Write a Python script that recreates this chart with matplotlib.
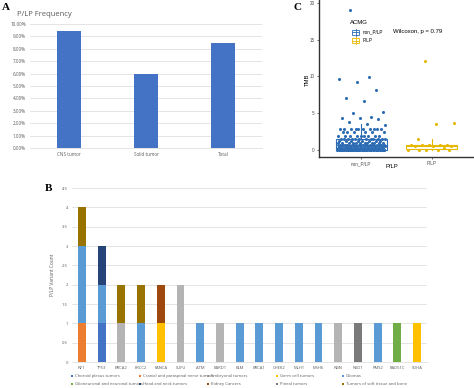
import numpy as np
import matplotlib
matplotlib.use("Agg")
import matplotlib.pyplot as plt
from matplotlib.patches import Rectangle
from matplotlib.lines import Line2D

# ---- panel A data ----
freq_groups = ["CNS tumor", "Solid tumor", "Total"]
freq_values = [0.094, 0.0595, 0.085]

# ---- panel B data ----
genes = ["NF1", "TP53", "BRCA2", "ERCC2", "FANCA", "SUFU", "ATM", "BARD1", "BLM",
         "BRCA1", "CHEK2", "MLH1", "MSH6", "NBN", "NSD1", "PMS2", "RAD51C", "SDHA"]
tumor_types = ["Choroid plexus tumors", "Cranial and paraspinal nerve tumors",
               "Embryonal tumors", "Germ cell tumors", "Gliomas",
               "Glioneuronal and neuronal tumors", "Head and neck tumors",
               "Kidney Cancers", "Pineal tumors", "Tumors of soft tissue and bone"]
choroid = [0, 1, 0, 0, 0, 0, 0, 0, 0, 0, 0, 0, 0, 0, 0, 0, 0, 0]
cranial = [1, 0, 0, 0, 0, 0, 0, 0, 0, 0, 0, 0, 0, 0, 0, 0, 0, 0]
embryonal = [0, 0, 1, 0, 0, 2, 0, 1, 0, 0, 0, 0, 0, 1, 0, 0, 0, 0]
germ_cell = [0, 0, 0, 0, 1, 0, 0, 0, 0, 0, 0, 0, 0, 0, 0, 0, 0, 1]
gliomas = [2, 1, 0, 1, 0, 0, 1, 0, 1, 1, 1, 1, 1, 0, 0, 1, 0, 0]
glioneuronal = [0, 0, 0, 0, 0, 0, 0, 0, 0, 0, 0, 0, 0, 0, 0, 0, 1, 0]
head_neck = [0, 1, 0, 0, 0, 0, 0, 0, 0, 0, 0, 0, 0, 0, 0, 0, 0, 0]
kidney = [0, 0, 0, 0, 1, 0, 0, 0, 0, 0, 0, 0, 0, 0, 0, 0, 0, 0]
pineal = [0, 0, 0, 0, 0, 0, 0, 0, 0, 0, 0, 0, 0, 0, 1, 0, 0, 0]
soft_tissue = [1, 0, 1, 1, 0, 0, 0, 0, 0, 0, 0, 0, 0, 0, 0, 0, 0, 0]
counts = [choroid, cranial, embryonal, germ_cell, gliomas, glioneuronal,
          head_neck, kidney, pineal, soft_tissue]
tumor_colors = ["#4472C4", "#ED7D31", "#B4B4B4", "#FFC000", "#5B9BD5",
                "#70AD47", "#264478", "#9E480E", "#7A7A7A", "#997300"]

# ---- panel C data (TMB values, repeated levels) ----
acmg_groups = ["non_P/LP", "P/LP"]
nonplp_levels = [0.0, 0.24, 0.48, 0.72, 0.96, 1.2, 1.45, 1.9, 2.4, 2.9,
                 3.4, 3.6, 3.8, 4.2, 4.3, 4.4, 4.5, 5.1, 5.2, 6.6, 7.1, 8.1, 9.2, 9.6, 9.9, 19.1]
nonplp_counts = [45, 22, 18, 16, 12, 8, 12, 9, 6, 10,
                 1, 1, 1, 1, 1, 1, 1, 1, 1, 1, 1, 1, 1, 1, 1, 1]
plp_tmb = [12.1, 3.7, 3.5, 1.45, 0.72, 0.72, 0.72, 0.72, 0.72, 0.48, 0.48, 0.48,
           0.24, 0.05, 0.05, 0.05, 0.05, 0.05]
acmg_colors = ["#2E6DB4", "#E7B800"]

W, H = 474, 388
fig = plt.figure(figsize=(W / 100, H / 100), dpi=100)
fig.patch.set_facecolor("white")


def px_axes(l, t, r, b):
    return fig.add_axes([l / W, 1 - b / H, (r - l) / W, (b - t) / H])


def fx(x):
    return x / W


def fy(y):
    return 1 - y / H


excel_font = "Open Sans"
gray_txt = "#595959"
grid_c = "#D9D9D9"

# ================= Panel A =================
axA = px_axes(30, 24, 262, 148)
xa = np.arange(len(freq_groups))
axA.bar(xa, freq_values, width=0.31, color="#4472C4", zorder=3)
axA.set_xlim(-0.5, 2.5)
axA.set_ylim(0, 0.10)
axA.set_yticks(np.arange(0, 0.1001, 0.01))
axA.set_yticklabels([f"{v * 100:.2f}%" for v in np.arange(0, 0.1001, 0.01)])
axA.set_xticks(xa)
axA.set_xticklabels(freq_groups)
axA.yaxis.grid(True, color=grid_c, lw=0.5, zorder=0)
for s in ["top", "right", "left"]:
    axA.spines[s].set_visible(False)
axA.spines["bottom"].set_color(grid_c)
axA.spines["bottom"].set_linewidth(0.5)
axA.tick_params(length=0, labelsize=3.3, labelcolor=gray_txt, pad=3)
for t in axA.get_xticklabels() + axA.get_yticklabels():
    t.set_family(excel_font)
fig.text(fx(17), fy(15), "P/LP Frequency", fontsize=5.5, color=gray_txt,
         family=excel_font, va="center", ha="left")
fig.text(fx(2), fy(7), "A", fontsize=8, weight="bold", family="Liberation Serif",
         va="center", ha="left")

# ================= Panel B =================
axB = px_axes(72, 188, 427, 362)
xb = np.arange(len(genes))
bottom = np.zeros(len(genes))
for name, vals, col in zip(tumor_types, counts, tumor_colors):
    vals = np.array(vals, dtype=float)
    axB.bar(xb, vals, bottom=bottom, width=0.4, color=col, zorder=3, label=name)
    bottom += vals
axB.set_xlim(-0.5, len(genes) - 0.5)
axB.set_ylim(0, 4.5)
yt = np.arange(0, 4.51, 0.5)
axB.set_yticks(yt)
axB.set_yticklabels([f"{v:g}" for v in yt])
axB.set_xticks(xb)
axB.set_xticklabels(genes)
axB.yaxis.grid(True, color=grid_c, lw=0.5, zorder=0)
for s in ["top", "right", "left"]:
    axB.spines[s].set_visible(False)
axB.spines["bottom"].set_color(grid_c)
axB.spines["bottom"].set_linewidth(0.5)
axB.tick_params(length=0, labelsize=3.0, labelcolor=gray_txt, pad=3)
for t in axB.get_xticklabels() + axB.get_yticklabels():
    t.set_family(excel_font)
axB.set_ylabel("P/LP Variant Count", fontsize=3.5, color=gray_txt,
               family=excel_font, labelpad=5)
fig.text(fx(45), fy(188), "B", fontsize=8, weight="bold", family="Liberation Serif",
         va="center", ha="left")

# legend laid out like Excel: 5 columns x 2 rows
leg_cols = [72, 140, 208, 277, 343]
leg_rows = [376, 384]
for i, (name, col) in enumerate(zip(tumor_types, tumor_colors)):
    cx = leg_cols[i % 5]
    cy = leg_rows[i // 5]
    fig.add_artist(Rectangle((fx(cx - 1.2), fy(cy + 1.2)), 2.4 / W, 2.4 / H,
                             transform=fig.transFigure, color=col, lw=0))
    fig.text(fx(cx + 3), fy(cy), name, fontsize=3.0, color=gray_txt,
             family=excel_font, va="center", ha="left")

# ================= Panel C =================
axC = px_axes(319, -4, 474, 157)
nonplp_tmb = np.repeat(nonplp_levels, nonplp_counts)
data_c = [nonplp_tmb, np.array(plp_tmb)]
box_w = 0.72
for k, (vals, col) in enumerate(zip(data_c, acmg_colors)):
    pos = k + 1
    axC.boxplot(vals, positions=[pos], widths=box_w, showfliers=False,
                patch_artist=True,
                boxprops=dict(facecolor="white", edgecolor=col, lw=0.8),
                medianprops=dict(color=col, lw=0.8),
                whiskerprops=dict(color=col, lw=0.8),
                capprops=dict(lw=0), zorder=2)
    n = len(vals)
    jit = ((np.arange(n) * 0.6180339887 + 0.35) % 1 - 0.5) * 2 * 0.34
    axC.scatter(pos + jit, vals, s=5, color=col, lw=0, zorder=3)
axC.set_xlim(0.4, 2.6)
axC.set_ylim(-0.95, 20.95)
axC.set_yticks([0, 5, 10, 15, 20])
axC.set_xticks([1, 2])
axC.set_xticklabels(acmg_groups)
for s in ["top", "right"]:
    axC.spines[s].set_visible(False)
for s in ["left", "bottom"]:
    axC.spines[s].set_color("#333333")
    axC.spines[s].set_linewidth(1.0)
axC.tick_params(length=1.5, width=0.5, color="#333333", labelsize=3.3,
                labelcolor="#4D4D4D", pad=1.5)
for t in axC.get_xticklabels() + axC.get_yticklabels():
    t.set_family("Liberation Sans")
fig.text(fx(307), fy(80), "TMB", fontsize=4.2, rotation=90, family="Liberation Sans",
         va="center", ha="center")
fig.text(fx(392), fy(166), "P/LP", fontsize=4.2, family="Liberation Sans",
         va="center", ha="center")
fig.text(fx(393), fy(31), "Wilcoxon, p = 0.79", fontsize=4.3, family="Liberation Sans",
         va="center", ha="left")
fig.text(fx(350), fy(23), "ACMG", fontsize=4.3, family="Liberation Sans",
         va="center", ha="left")
for i, (name, col) in enumerate(zip(acmg_groups, acmg_colors)):
    cy = 32 + 8.5 * i
    fig.add_artist(Rectangle((fx(352), fy(cy + 2.5)), 7 / W, 5 / H,
                             transform=fig.transFigure, facecolor="white",
                             edgecolor=col, lw=0.6))
    fig.add_artist(Line2D([fx(352), fx(359)], [fy(cy), fy(cy)],
                          transform=fig.transFigure, color=col, lw=0.6))
    fig.add_artist(Line2D([fx(355.5), fx(355.5)], [fy(cy - 3.5), fy(cy + 3.5)],
                          transform=fig.transFigure, color=col, lw=0.6))
    fig.text(fx(363), fy(cy), name, fontsize=3.3, family="Liberation Sans",
             va="center", ha="left")
fig.text(fx(293), fy(7), "C", fontsize=8, weight="bold", family="Liberation Serif",
         va="center", ha="left")

fig.savefig("out.png", dpi=100, facecolor="white")
